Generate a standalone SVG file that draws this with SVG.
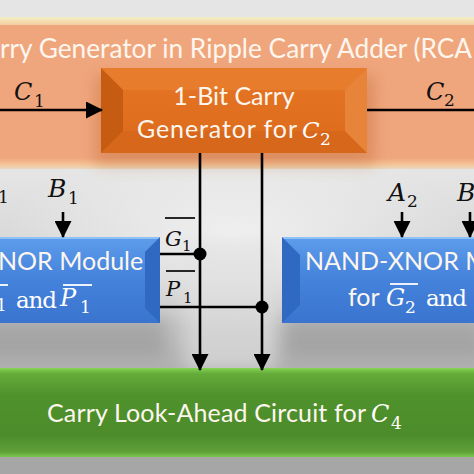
<svg xmlns="http://www.w3.org/2000/svg" width="474" height="474" viewBox="0 0 474 474">
<defs>
<style>
.sans{font-family:Lato,"Open Sans","Liberation Sans",sans-serif;fill:#fdf6ef}
.math{font-family:"DejaVu Serif","Liberation Serif",serif;font-style:italic;fill:#111}
.mathw{font-family:"DejaVu Serif","Liberation Serif",serif;font-style:italic;fill:#fff}
.up{font-style:normal}
.wire{stroke:#000;stroke-width:2.6;fill:none}
.bar{stroke:#111;stroke-width:1.8}
.barw{stroke:#fff;stroke-width:1.8}
</style>
<marker id="ah" markerUnits="userSpaceOnUse" markerWidth="17" markerHeight="17" viewBox="0 0 17 17" refX="16" refY="8.5" orient="auto"><path d="M0,0 L17,8.5 L0,17 z" fill="#000"/></marker>
<linearGradient id="grayv" x1="0" y1="0" x2="0" y2="1">
<stop offset="0" stop-color="#e6e6e6"/><stop offset="0.55" stop-color="#d2d2d2"/><stop offset="1" stop-color="#b0b0b0"/>
</linearGradient>
<radialGradient id="hl" cx="0.5" cy="0.5" r="0.5">
<stop offset="0" stop-color="#f2f2f2" stop-opacity="0.9"/><stop offset="1" stop-color="#f2f2f2" stop-opacity="0"/>
</radialGradient>
<linearGradient id="yel" x1="0" y1="0" x2="0" y2="1">
<stop offset="0" stop-color="#f4efc6"/><stop offset="1" stop-color="#f3c99a"/>
</linearGradient>
<linearGradient id="obot" x1="0" y1="0" x2="0" y2="1">
<stop offset="0" stop-color="#f0a67d"/><stop offset="0.6" stop-color="#f4c598"/><stop offset="1" stop-color="#e8d9c0"/>
</linearGradient>
<linearGradient id="oface" x1="0" y1="0" x2="0" y2="1">
<stop offset="0" stop-color="#e57624"/><stop offset="1" stop-color="#dc6a1c"/>
</linearGradient>
<linearGradient id="bface" x1="0" y1="0" x2="0" y2="1">
<stop offset="0" stop-color="#5e9ceb"/><stop offset="0.5" stop-color="#4482db"/><stop offset="1" stop-color="#3a74cf"/>
</linearGradient>
<linearGradient id="gface" x1="0" y1="0" x2="0" y2="1">
<stop offset="0" stop-color="#86d655"/><stop offset="0.06" stop-color="#66ad3b"/><stop offset="0.3" stop-color="#4f922c"/><stop offset="0.75" stop-color="#4c8c2a"/><stop offset="0.94" stop-color="#5e9f38"/><stop offset="1" stop-color="#7cc64d"/>
</linearGradient>
<filter id="blur" x="-20%" y="-50%" width="140%" height="200%"><feGaussianBlur stdDeviation="8"/></filter>
</defs>

<!-- background -->
<rect x="0" y="0" width="474" height="474" fill="#a6a6a6"/>
<rect x="0" y="0" width="474" height="18" fill="#e5e5e5"/>
<rect x="0" y="165" width="474" height="205" fill="url(#grayv)"/>
<ellipse cx="235" cy="235" rx="230" ry="95" fill="url(#hl)"/>
<rect x="185" y="240" width="90" height="130" fill="#e2e2e2" opacity="0.6" filter="url(#blur)"/>
<rect x="-20" y="318" width="185" height="40" fill="#8a8a8a" opacity="0.45" filter="url(#blur)"/>
<rect x="285" y="318" width="200" height="40" fill="#8a8a8a" opacity="0.45" filter="url(#blur)"/>
<rect x="0" y="17" width="474" height="9" fill="url(#yel)"/>
<rect x="0" y="25" width="474" height="135" fill="#f0a67d"/>
<rect x="0" y="158" width="474" height="11" fill="url(#obot)"/>
<rect x="95" y="75" width="280" height="90" fill="#b8602a" opacity="0.35" filter="url(#blur)"/>

<text class="sans" x="0" y="58" font-size="26" textLength="472" lengthAdjust="spacingAndGlyphs">rry Generator in Ripple Carry Adder (RCA</text>

<!-- orange node -->
<g id="carry-gen-c2">
<rect x="101" y="68" width="266" height="85" fill="url(#oface)"/>
<polygon points="101,68 367,68 345,90 123,90" fill="#e77c2c"/>
<polygon points="101,153 367,153 345,131 123,131" fill="#d6671b"/>
<polygon points="101,68 123,90 123,131 101,153" fill="#c65c12"/>
<polygon points="367,68 345,90 345,131 367,153" fill="#e8843a"/>
<text class="sans" x="234" y="105" font-size="25" text-anchor="middle">1-Bit Carry</text>
<text class="sans" x="137" y="138" font-size="25" textLength="160">Generator for</text>
<text class="mathw" x="302" y="138" font-size="23">C</text>
<text class="mathw up" x="320" y="145" font-size="17">2</text>
</g>

<!-- left blue node -->
<g id="nand-xnor-1">
<rect x="-5" y="237" width="165" height="86" fill="url(#bface)"/>
<rect x="-5" y="237" width="165" height="2" fill="#8ec2f6"/>
<polygon points="160,237 145,252 145,308 160,323" fill="#3069c2"/>
<text class="sans" x="-2" y="270" font-size="25">NOR Module</text>
<line class="barw" x1="0" y1="285" x2="8" y2="285"/>
<text class="mathw up" x="-4" y="311" font-size="17">1</text>
<text class="mathw up" x="16" y="308" font-size="23" textLength="41">and</text>
<line class="barw" x1="63" y1="285" x2="92" y2="285"/>
<text class="mathw" x="60" y="306" font-size="24">P</text>
<text class="mathw up" x="80" y="313" font-size="17">1</text>
</g>

<!-- right blue node -->
<g id="nand-xnor-2">
<rect x="282" y="237" width="200" height="86" fill="url(#bface)"/>
<rect x="282" y="237" width="200" height="2" fill="#8ec2f6"/>
<polygon points="282,237 300,255 300,305 282,323" fill="#3069c2"/>
<text class="sans" x="305" y="270" font-size="25">NAND-XNOR M</text>
<text class="sans" x="348" y="306" font-size="25">for</text>
<line class="barw" x1="390" y1="284" x2="418" y2="284"/>
<text class="mathw" x="386" y="306" font-size="24">G</text>
<text class="mathw up" x="405" y="313" font-size="17">2</text>
<text class="mathw up" x="426" y="306" font-size="23" textLength="41">and</text>
</g>

<!-- green node -->
<g id="cla-c4">
<rect x="0" y="368" width="474" height="89" fill="url(#gface)"/>
<text class="sans" x="47" y="422" font-size="25" textLength="319">Carry Look-Ahead Circuit for</text>
<text class="mathw" x="371" y="422" font-size="24">C</text>
<text class="mathw up" x="391" y="429" font-size="17">4</text>
</g>

<!-- labels -->
<g id="labels">
<text class="math" x="14" y="100" font-size="24">C</text>
<text class="math up" x="34" y="107" font-size="17">1</text>
<text class="math" x="426" y="100" font-size="24">C</text>
<text class="math up" x="444" y="106" font-size="17">2</text>
<text class="math up" x="-2" y="203" font-size="17">1</text>
<text class="math" x="48" y="197" font-size="25">B</text>
<text class="math up" x="68" y="204" font-size="17">1</text>
<text class="math" x="388" y="201" font-size="25">A</text>
<text class="math up" x="407" y="207" font-size="17">2</text>
<text class="math" x="457" y="201" font-size="25">B</text>
<line class="bar" x1="165" y1="218" x2="195" y2="218"/>
<text class="math" x="165" y="246" font-size="21">G</text>
<text class="math up" x="182" y="251" font-size="15">1</text>
<line class="bar" x1="166" y1="271" x2="195" y2="271"/>
<text class="math" x="166" y="296" font-size="21">P</text>
<text class="math up" x="183" y="303" font-size="15">1</text>
</g>

<!-- connectors -->
<g id="connectors">
<line class="wire" x1="-2" y1="110" x2="102" y2="110" marker-end="url(#ah)"/>
<line class="wire" x1="367" y1="110" x2="476" y2="110"/>
<line class="wire" x1="200" y1="153" x2="200" y2="370" marker-end="url(#ah)"/>
<line class="wire" x1="262" y1="153" x2="262" y2="370" marker-end="url(#ah)"/>
<line class="wire" x1="160" y1="254" x2="200" y2="254"/>
<line class="wire" x1="160" y1="307" x2="262" y2="307"/>
<circle cx="200" cy="254" r="6.5" fill="#000"/>
<circle cx="262" cy="307" r="6.5" fill="#000"/>
<line class="wire" x1="63" y1="212" x2="63" y2="237" marker-end="url(#ah)"/>
<line class="wire" x1="402" y1="212" x2="402" y2="237" marker-end="url(#ah)"/>
<line class="wire" x1="470" y1="212" x2="470" y2="237" marker-end="url(#ah)"/>
</g>
</svg>
